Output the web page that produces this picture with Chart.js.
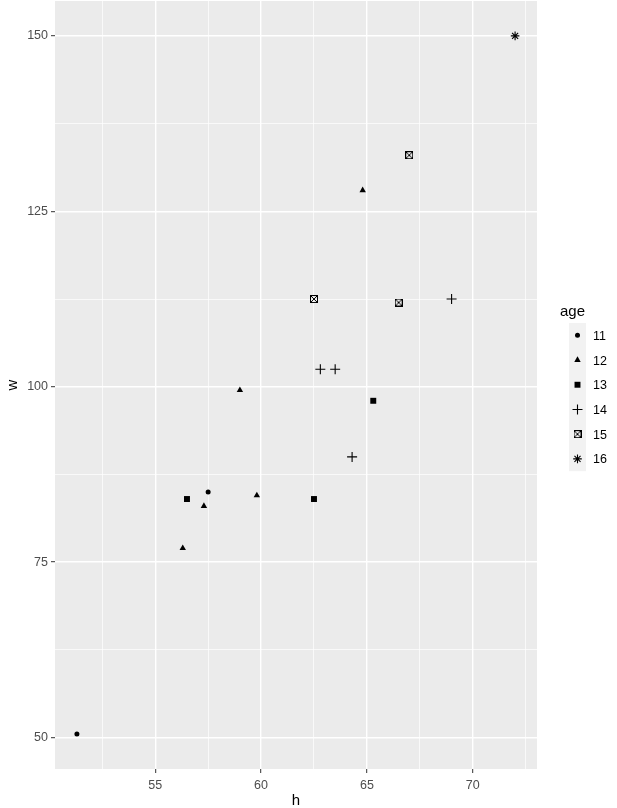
<!DOCTYPE html>
<html>
<head>
<meta charset="utf-8">
<script src="https://cdn.jsdelivr.net/npm/chart.js@4/dist/chart.umd.min.js"></script>
<style>
  html, body { margin: 0; padding: 0; background: #fff; }
</style>
</head>
<body>
<canvas id="chart" width="617" height="808"></canvas>
<script>
// =====================
// DATA
// =====================
const AGES = ["11", "12", "13", "14", "15", "16"];

const H11 = [51.3, 57.5];
const W11 = [50.5, 85];
const H12 = [56.3, 57.3, 59.0, 59.8, 64.8];
const W12 = [77, 83, 99.5, 84.5, 128];
const H13 = [56.5, 62.5, 65.3];
const W13 = [84, 84, 98];
const H14 = [62.8, 63.5, 64.3, 69.0];
const W14 = [102.5, 102.5, 90, 112.5];
const H15 = [62.5, 66.5, 67.0];
const W15 = [112.5, 112, 133];
const H16 = [72];
const W16 = [150];

const X_TICKS = [52.5, 55, 57.5, 60, 62.5, 65, 67.5, 70, 72.5];
const Y_TICKS = [50, 62.5, 75, 87.5, 100, 112.5, 125, 137.5, 150];
const X_MAJOR = [55, 60, 65, 70];
const Y_MAJOR = [50, 75, 100, 125, 150];

const FONT = "'Liberation Sans', Arial, sans-serif";

// ggplot shape 7: square with a cross inside
function boxedCross() {
    const c = document.createElement("canvas");
    c.width = 8;
    c.height = 8;
    const g = c.getContext("2d");
    g.strokeStyle = "#000";
    g.lineWidth = 1;
    g.strokeRect(0.5, 0.5, 7, 7);
    g.beginPath();
    g.moveTo(0.5, 0.5); g.lineTo(7.5, 7.5);
    g.moveTo(7.5, 0.5); g.lineTo(0.5, 7.5);
    g.stroke();
    return c;
}

const STYLES = [
    { pointStyle: "circle", radius: 2.5, borderWidth: 0 },
    { pointStyle: "triangle", radius: 3.7, borderWidth: 0 },
    { pointStyle: "rect", radius: 4.2, borderWidth: 0 },
    { pointStyle: "cross", radius: 5, borderWidth: 1.1 },
    { pointStyle: boxedCross(), radius: 4, borderWidth: 0 },
    { pointStyle: "star", radius: 4.3, borderWidth: 1.1 }
];

const toPoints = (hs, ws) => hs.map((h, i) => ({ x: h, y: ws[i] }));
const SERIES = [
    toPoints(H11, W11), toPoints(H12, W12), toPoints(H13, W13),
    toPoints(H14, W14), toPoints(H15, W15), toPoints(H16, W16)
];

// =====================
// PLUGINS
// =====================
const panelBg = {
    id: "panelBg",
    beforeDraw(chart) {
        const { ctx, chartArea: a } = chart;
        ctx.save();
        ctx.fillStyle = "#EBEBEB";
        ctx.fillRect(a.left, a.top, a.right - a.left, a.bottom - a.top);
        ctx.restore();
    }
};

const ggLegend = {
    id: "ggLegend",
    afterDraw(chart) {
        const ctx = chart.ctx;
        const a = chart.chartArea;
        const keyX = a.right + 32;
        const keyW = 17;
        const keyH = 24.7;
        const top = 323;

        ctx.save();
        ctx.fillStyle = "#000";
        ctx.font = "15px " + FONT;
        ctx.textBaseline = "middle";
        ctx.textAlign = "left";
        ctx.fillText("age", a.right + 23, 312);

        ctx.fillStyle = "#F2F2F2";
        ctx.fillRect(keyX, top, keyW, keyH * AGES.length);

        AGES.forEach((age, i) => {
            const cy = top + keyH * (i + 0.5);
            const cx = keyX + keyW / 2;
            const st = STYLES[i];
            ctx.fillStyle = "#000";
            ctx.strokeStyle = "#000";
            ctx.lineWidth = st.borderWidth;
            Chart.helpers.drawPoint(ctx, {
                pointStyle: st.pointStyle,
                radius: st.radius,
                rotation: 0,
                borderWidth: st.borderWidth
            }, cx, cy);
            ctx.fillStyle = "#000";
            ctx.font = "12.5px " + FONT;
            ctx.fillText(age, keyX + keyW + 7, cy + 1);
        });
        ctx.restore();
    }
};

// =====================
// CHART
// =====================
const isMajor = (v, list) => list.some(m => Math.abs(m - v) < 1e-6);

new Chart(document.getElementById("chart"), {
    type: "scatter",
    data: {
        datasets: SERIES.map((pts, i) => ({
            label: AGES[i],
            data: pts,
            pointStyle: STYLES[i].pointStyle,
            pointRadius: STYLES[i].radius,
            pointHoverRadius: STYLES[i].radius,
            pointBorderWidth: STYLES[i].borderWidth,
            backgroundColor: "#000",
            borderColor: "#000"
        }))
    },
    options: {
        responsive: false,
        devicePixelRatio: 1,
        animation: false,
        layout: { autoPadding: false, padding: { top: 1, right: 80, left: 0, bottom: 0 } },
        plugins: {
            legend: { display: false },
            tooltip: { enabled: false }
        },
        scales: {
            x: {
                type: "linear",
                min: 50.265,
                max: 73.035,
                afterBuildTicks: s => { s.ticks = X_TICKS.map(v => ({ value: v })); },
                afterFit: s => { s.height = 39; s.paddingLeft = 0; s.paddingRight = 0; },
                border: { display: false },
                grid: {
                    color: "#FFFFFF",
                    lineWidth: c => isMajor(c.tick.value, X_MAJOR) ? 1.4 : 0.7,
                    tickColor: c => isMajor(c.tick.value, X_MAJOR) ? "#333333" : "rgba(0,0,0,0)",
                    tickLength: 4,
                    tickWidth: 1
                },
                ticks: {
                    autoSkip: false,
                    maxRotation: 0,
                    padding: 5,
                    color: "#4D4D4D",
                    font: { family: FONT, size: 12.5 },
                    callback: v => isMajor(v, X_MAJOR) ? String(v) : ""
                },
                title: {
                    display: true,
                    text: "h",
                    color: "#000",
                    padding: { top: 0, bottom: -2 },
                    font: { family: FONT, size: 15 }
                }
            },
            y: {
                type: "linear",
                min: 45.525,
                max: 154.975,
                afterBuildTicks: s => { s.ticks = Y_TICKS.map(v => ({ value: v })); },
                afterFit: s => { s.width = 55; s.paddingTop = 0; s.paddingBottom = 0; },
                border: { display: false },
                grid: {
                    color: "#FFFFFF",
                    lineWidth: c => isMajor(c.tick.value, Y_MAJOR) ? 1.4 : 0.7,
                    tickColor: c => isMajor(c.tick.value, Y_MAJOR) ? "#333333" : "rgba(0,0,0,0)",
                    tickLength: 4,
                    tickWidth: 1
                },
                ticks: {
                    autoSkip: false,
                    padding: 3,
                    color: "#4D4D4D",
                    font: { family: FONT, size: 12.5 },
                    callback: v => isMajor(v, Y_MAJOR) ? String(v) : ""
                },
                title: {
                    display: true,
                    text: "w",
                    color: "#000",
                    padding: { top: 4, bottom: 0 },
                    font: { family: FONT, size: 15 }
                }
            }
        }
    },
    plugins: [panelBg, ggLegend]
});
</script>
</body>
</html>
